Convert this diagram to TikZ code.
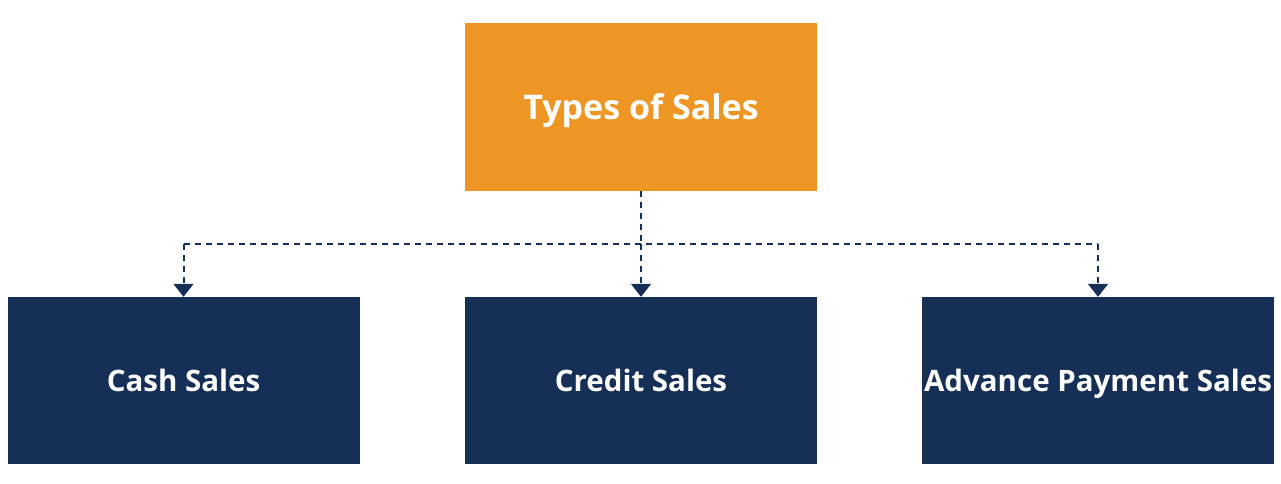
\documentclass[tikz,border=0pt]{standalone}
\usepackage{fontspec}
\setmainfont{Open Sans}
\usetikzlibrary{arrows.meta}
\definecolor{salesorange}{HTML}{EE9623}
\definecolor{salesnavy}{HTML}{152F57}
\tikzset{
  box/.style={fill=#1, minimum width=352pt, minimum height=167pt, inner sep=0pt,
    text=white, text height=21pt, text depth=0pt,
    font=\fontsize{29.5}{35}\selectfont\bfseries},
  link/.style={draw=salesnavy, line width=2pt, dash pattern=on 6pt off 5pt},
  tip/.style={link, -{Triangle[width=20pt,length=13pt]}}
}
\begin{document}
\begin{tikzpicture}[x=1pt,y=-1pt]
\useasboundingbox (0,0) rectangle (1281,484);

% top
\node[box=salesorange, text height=24.3pt, font=\fontsize{34}{40}\selectfont\bfseries] (types) at (641,107) {Types of Sales};

% kinds of sales
\node[box=salesnavy] (cash) at (183.5,380.5) {Cash Sales};
\node[box=salesnavy] (credit) at (641,380.5) {Credit Sales};
\node[box=salesnavy] (advance) at (1098,380.5) {Advance Payment Sales};

\coordinate (split) at (641,244);

%types - - kinds
\draw[link] (types.south) -- (split);
\draw[link] (split-|cash) -- (split-|advance);
\draw[tip] (split-|cash) -- (cash.north);
\draw[tip] (split) -- (credit.north);
\draw[tip] (split-|advance) -- (advance.north);

\end{tikzpicture}
\end{document}
